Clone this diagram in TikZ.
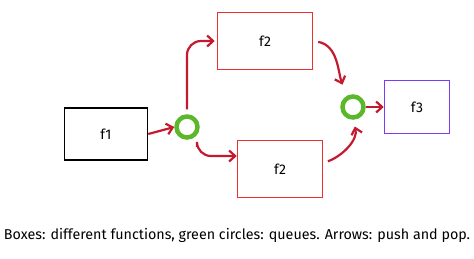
\documentclass[tikz,border=0pt]{standalone}
\usepackage{fontspec}
\setmainfont{Fira Sans}
\usetikzlibrary{arrows.meta,positioning}
\definecolor{BoxRed}{HTML}{E8322F}
\definecolor{ArrowRed}{HTML}{C41A30}
\definecolor{QueueGreen}{HTML}{5CB82B}
\definecolor{BoxPurple}{HTML}{7A3DF2}

\begin{document}
\begin{tikzpicture}[x=1pt, y=-1pt,
  func/.style={draw, line width=1.5pt, minimum width=#1, font=\fontsize{14}{16}\selectfont},
  queue/.style={circle, draw=QueueGreen, line width=4.5pt, minimum size=21pt, inner sep=0pt},
  arr/.style={-{Straight Barb[length=6pt,width=11pt]}, line width=2.2pt, ArrowRed}
]
\useasboundingbox (0,0) rectangle (474,258);
\node[func=83pt, minimum height=52pt] (f1) at (106,134) {f1};
\node[func=95pt, minimum height=57pt, draw=BoxRed] (f2a) at (265,41) {f2};
\node[func=85pt, minimum height=57pt, draw=BoxRed] (f2b) at (280,169) {f2};
\node[func=65pt, minimum height=53pt, draw=BoxPurple] (f3) at (417,107) {f3};
\node[queue] (q1) at (187,127) {};
\node[queue] (q2) at (353,107) {};
\draw[arr] (f1.east) -- (q1.west);
\draw[arr, rounded corners=14pt, shorten <=5pt] (q1.north) |- ([xshift=-2pt]f2a.west);
\draw[arr, rounded corners=14pt, shorten <=7pt] ([xshift=10pt]q1.south) |- ([yshift=13pt]f2b.west);
\draw[arr, shorten <=5pt, shorten >=12pt] (f2a.east) to[out=-10, in=110] (q2.120);
\draw[arr, shorten <=5pt, shorten >=7pt] ([yshift=6pt]f2b.east) to[out=20, in=-75] (q2.south);
\draw[arr] (q2.east) -- (f3.west);
\node[font=\fontsize{14.3}{17}\selectfont] (caption) at (237,235) {Boxes: different functions, green circles: queues. Arrows: push and pop.};
\end{tikzpicture}
\end{document}
